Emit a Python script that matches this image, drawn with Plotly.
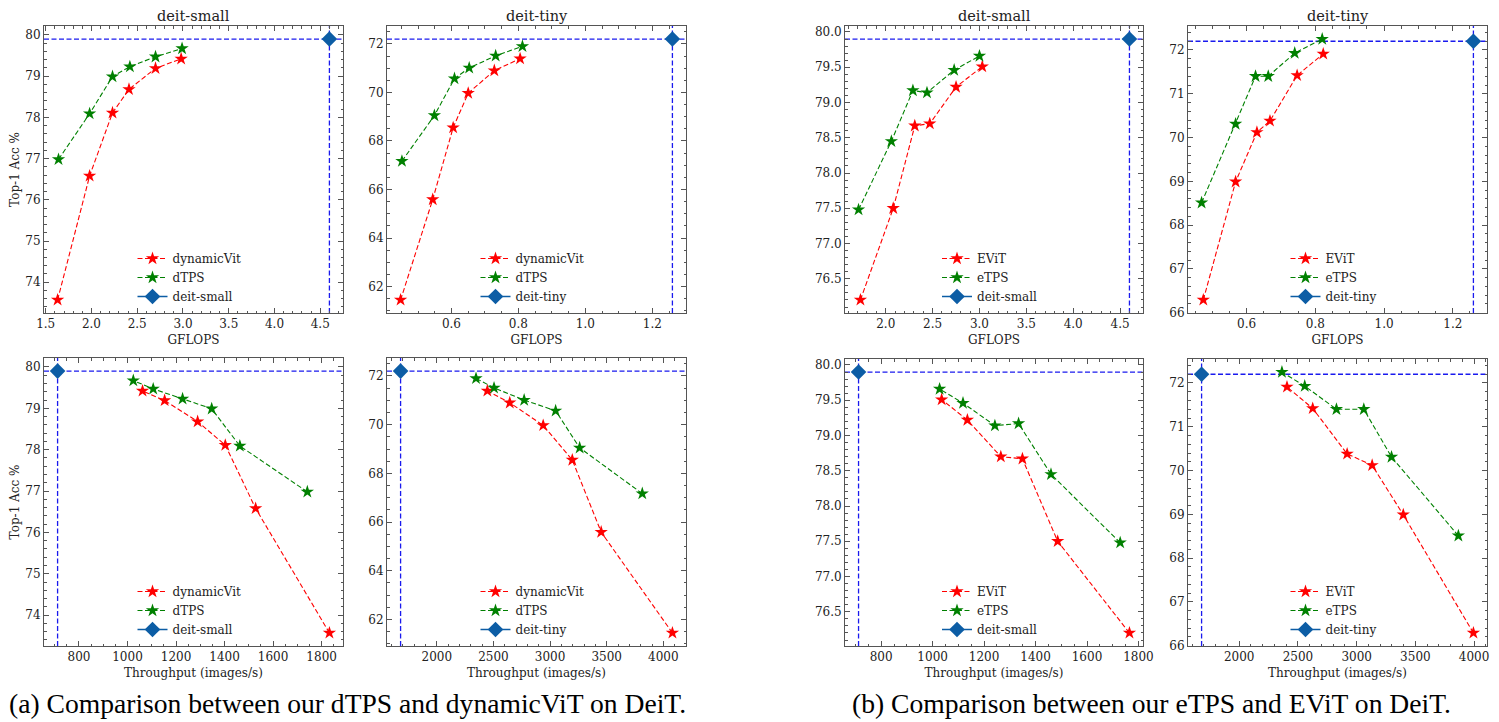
import plotly.graph_objects as go

# ---------------- data ----------------
# (a) DeiT-small: dynamicViT vs dTPS
a_s_dyn_gflops = [1.63, 1.98, 2.23, 2.41, 2.70, 2.98]
a_s_dyn_acc = [73.57, 76.58, 78.11, 78.68, 79.19, 79.42]
a_s_dyn_thr = [1832, 1528, 1403, 1289, 1153, 1062]
a_s_dtps_gflops = [1.64, 1.98, 2.23, 2.42, 2.70, 2.99]
a_s_dtps_acc = [76.98, 78.09, 78.99, 79.23, 79.47, 79.67]
a_s_dtps_thr = [1741, 1463, 1347, 1227, 1106, 1024]

# (a) DeiT-tiny: dynamicViT vs dTPS
a_t_dyn_gflops = [0.448, 0.544, 0.605, 0.650, 0.728, 0.805]
a_t_dyn_acc = [61.45, 65.59, 68.55, 69.97, 70.90, 71.39]
a_t_dyn_thr = [4080, 3451, 3196, 2939, 2644, 2446]
a_t_dtps_gflops = [0.452, 0.549, 0.609, 0.653, 0.732, 0.812]
a_t_dtps_acc = [67.17, 69.05, 70.57, 71.01, 71.51, 71.90]
a_t_dtps_thr = [3814, 3261, 3049, 2771, 2505, 2346]

# (b) DeiT-small: EViT vs eTPS
b_s_evit_gflops = [1.73, 2.08, 2.31, 2.47, 2.75, 3.03]
b_s_evit_acc = [76.20, 77.50, 78.67, 78.70, 79.22, 79.51]
b_s_evit_thr = [1765, 1486, 1349, 1265, 1135, 1035]
b_s_etps_gflops = [1.71, 2.06, 2.29, 2.44, 2.73, 3.00]
b_s_etps_acc = [77.48, 78.45, 79.17, 79.14, 79.46, 79.66]
b_s_etps_thr = [1729, 1460, 1334, 1242, 1118, 1027]

# (b) DeiT-tiny: EViT vs eTPS
b_t_evit_gflops = [0.474, 0.568, 0.630, 0.668, 0.747, 0.823]
b_t_evit_acc = [66.29, 68.99, 70.12, 70.38, 71.42, 71.91]
b_t_evit_thr = [3994, 3397, 3132, 2919, 2626, 2407]
b_t_etps_gflops = [0.469, 0.568, 0.626, 0.663, 0.740, 0.820]
b_t_etps_acc = [68.51, 70.31, 71.40, 71.40, 71.93, 72.25]
b_t_etps_thr = [3866, 3297, 3061, 2828, 2558, 2364]

# baselines
deit_small_gflops, deit_small_acc, deit_small_thr = 4.6, 79.9, 712
deit_tiny_gflops, deit_tiny_acc, deit_tiny_thr = 1.26, 72.2, 1680

captions = ["(a) Comparison between our dTPS and dynamicViT on DeiT.",
            "(b) Comparison between our eTPS and EViT on DeiT."]

# ---------------- styling ----------------
# the page places the figure 8px from the top-left corner (default body margin)
OFF = 8
W, H = 1499 - OFF, 722 - OFF
RED, GREEN, BASE, REF = "#ff0000", "#008000", "#0c5da5", "#1a1aee"
FRAME = "#555555"
SERIF = "DejaVu Serif"
TXT = "#222222"


def fx(px):
    return (px - OFF) / W


def fy(py):
    return 1 - (py - OFF) / H


panels = [
    # top row
    dict(box=(44, 26, 343, 313), xr=a_s_dyn_gflops, yr=a_s_dyn_acc, xg=a_s_dtps_gflops, yg=a_s_dtps_acc,
         bx=deit_small_gflops, by=deit_small_acc, names=("dynamicVit", "dTPS", "deit-small"),
         title="deit-small", xlabel="GFLOPS", ylabel="Top-1 Acc %", xt=(0.5, 0.1, ".1f"), yt=(1, 0.2, "d")),
    dict(box=(387, 26, 686, 313), xr=a_t_dyn_gflops, yr=a_t_dyn_acc, xg=a_t_dtps_gflops, yg=a_t_dtps_acc,
         bx=deit_tiny_gflops, by=deit_tiny_acc, names=("dynamicVit", "dTPS", "deit-tiny"),
         title="deit-tiny", xlabel="GFLOPS", ylabel="", xt=(0.2, 0.05, ".1f"), yt=(2, 0.5, "d")),
    dict(box=(845, 26, 1143, 313), xr=b_s_evit_gflops, yr=b_s_evit_acc, xg=b_s_etps_gflops, yg=b_s_etps_acc,
         bx=deit_small_gflops, by=deit_small_acc, names=("EViT", "eTPS", "deit-small"),
         title="deit-small", xlabel="GFLOPS", ylabel="", xt=(0.5, 0.1, ".1f"), yt=(0.5, 0.1, ".1f")),
    dict(box=(1188, 26, 1487, 313), xr=b_t_evit_gflops, yr=b_t_evit_acc, xg=b_t_etps_gflops, yg=b_t_etps_acc,
         bx=deit_tiny_gflops, by=deit_tiny_acc, names=("EViT", "eTPS", "deit-tiny"),
         title="deit-tiny", xlabel="GFLOPS", ylabel="", xt=(0.2, 0.05, ".1f"), yt=(1, 0.2, "d")),
    # bottom row
    dict(box=(44, 358, 343, 646), xr=a_s_dyn_thr, yr=a_s_dyn_acc, xg=a_s_dtps_thr, yg=a_s_dtps_acc,
         bx=deit_small_thr, by=deit_small_acc, names=("dynamicVit", "dTPS", "deit-small"),
         title="", xlabel="Throughput (images/s)", ylabel="Top-1 Acc %", xt=(200, 50, "d"), yt=(1, 0.2, "d")),
    dict(box=(387, 358, 686, 646), xr=a_t_dyn_thr, yr=a_t_dyn_acc, xg=a_t_dtps_thr, yg=a_t_dtps_acc,
         bx=deit_tiny_thr, by=deit_tiny_acc, names=("dynamicVit", "dTPS", "deit-tiny"),
         title="", xlabel="Throughput (images/s)", ylabel="", xt=(500, 100, "d"), yt=(2, 0.5, "d")),
    dict(box=(845, 359, 1143, 646), xr=b_s_evit_thr, yr=b_s_evit_acc, xg=b_s_etps_thr, yg=b_s_etps_acc,
         bx=deit_small_thr, by=deit_small_acc, names=("EViT", "eTPS", "deit-small"),
         title="", xlabel="Throughput (images/s)", ylabel="", xt=(200, 50, "d"), yt=(0.5, 0.1, ".1f")),
    dict(box=(1188, 359, 1487, 646), xr=b_t_evit_thr, yr=b_t_evit_acc, xg=b_t_etps_thr, yg=b_t_etps_acc,
         bx=deit_tiny_thr, by=deit_tiny_acc, names=("EViT", "eTPS", "deit-tiny"),
         title="", xlabel="Throughput (images/s)", ylabel="", xt=(500, 100, "d"), yt=(1, 0.2, "d")),
]


def margins(vals):
    lo, hi = min(vals), max(vals)
    d = (hi - lo) * 0.05
    return [lo - d, hi + d]


fig = go.Figure()
layout = dict(width=W, height=H, margin=dict(l=0, r=0, t=0, b=0, autoexpand=False),
              paper_bgcolor="white", plot_bgcolor="white",
              font=dict(family=SERIF, size=12, color=TXT),
              showlegend=True)
shapes, annotations = [], []

for i, p in enumerate(panels, start=1):
    sx = "" if i == 1 else str(i)
    xa, ya = "x" + sx, "y" + sx
    leg = "legend" + sx
    x0, y0, x1, y1 = p["box"]

    fig.add_trace(go.Scatter(x=p["xr"], y=p["yr"], mode="lines+markers", name=p["names"][0],
                             xaxis=xa, yaxis=ya, legend=leg,
                             line=dict(color=RED, dash="5px,2.5px", width=1.1),
                             marker=dict(symbol="star", size=10, color=RED)))
    fig.add_trace(go.Scatter(x=p["xg"], y=p["yg"], mode="lines+markers", name=p["names"][1],
                             xaxis=xa, yaxis=ya, legend=leg,
                             line=dict(color=GREEN, dash="5px,2.5px", width=1.1),
                             marker=dict(symbol="star", size=10, color=GREEN)))
    fig.add_trace(go.Scatter(x=[p["bx"]], y=[p["by"]], mode="lines+markers", name=p["names"][2],
                             xaxis=xa, yaxis=ya, legend=leg,
                             line=dict(color=BASE, width=1.5),
                             marker=dict(symbol="diamond", size=12, color=BASE)))

    xrng = margins(p["xr"] + p["xg"] + [p["bx"]])
    yrng = margins(p["yr"] + p["yg"] + [p["by"]])

    common = dict(showline=True, mirror="allticks", linecolor=FRAME, linewidth=1,
                  ticks="inside", ticklen=5, tickwidth=1, tickcolor=FRAME,
                  showgrid=False, zeroline=False, tick0=0, automargin=False,
                  tickfont=dict(family=SERIF, size=12, color=TXT))
    layout["xaxis" + sx] = dict(common, domain=[fx(x0), fx(x1)], anchor=ya, range=xrng,
                                dtick=p["xt"][0], tickformat=p["xt"][2],
                                minor=dict(ticks="inside", ticklen=2.5, tickwidth=0.8, tickcolor=FRAME,
                                           dtick=p["xt"][1], tick0=0, showgrid=False),
                                title=dict(text=p["xlabel"], font=dict(family=SERIF, size=12, color=TXT),
                                           standoff=5))
    layout["yaxis" + sx] = dict(common, domain=[fy(y1), fy(y0)], anchor=xa, range=yrng,
                                dtick=p["yt"][0], tickformat=p["yt"][2],
                                minor=dict(ticks="inside", ticklen=2.5, tickwidth=0.8, tickcolor=FRAME,
                                           dtick=p["yt"][1], tick0=0, showgrid=False),
                                title=dict(text=p["ylabel"], font=dict(family=SERIF, size=12, color=TXT),
                                           standoff=5))

    # dashed reference lines at the baseline model values
    shapes.append(dict(type="line", xref=xa, yref=ya + " domain", x0=p["bx"], x1=p["bx"], y0=0, y1=1,
                       line=dict(color=REF, width=1.3, dash="5px,2.5px"), layer="below"))
    shapes.append(dict(type="line", xref=xa + " domain", yref=ya, x0=0, x1=1, y0=p["by"], y1=p["by"],
                       line=dict(color=REF, width=1.3, dash="5px,2.5px"), layer="below"))

    # legend (lower centre)
    layout[leg] = dict(x=fx((x0 + x1) / 2 - 4), xanchor="center", y=fy(y1 - 2), yanchor="bottom",
                       bgcolor="rgba(0,0,0,0)", borderwidth=0,
                       font=dict(family=SERIF, size=12, color=TXT),
                       tracegroupgap=0, itemclick=False)

    if p["title"]:
        annotations.append(dict(text=p["title"], x=fx((x0 + x1) / 2), y=fy(16), xref="paper", yref="paper",
                                xanchor="center", yanchor="middle", showarrow=False,
                                font=dict(family=SERIF, size=14.5, color=TXT)))

annotations.append(dict(text=captions[0], x=fx(347), y=fy(703), xref="paper", yref="paper",
                        xanchor="center", yanchor="middle", showarrow=False,
                        font=dict(family="Liberation Serif", size=27.6, color="#000000")))
annotations.append(dict(text=captions[1], x=fx(1151), y=fy(703), xref="paper", yref="paper",
                        xanchor="center", yanchor="middle", showarrow=False,
                        font=dict(family="Liberation Serif", size=27.6, color="#000000")))

layout["shapes"] = shapes
layout["annotations"] = annotations
fig.update_layout(**layout)
fig.write_html("out.html")
